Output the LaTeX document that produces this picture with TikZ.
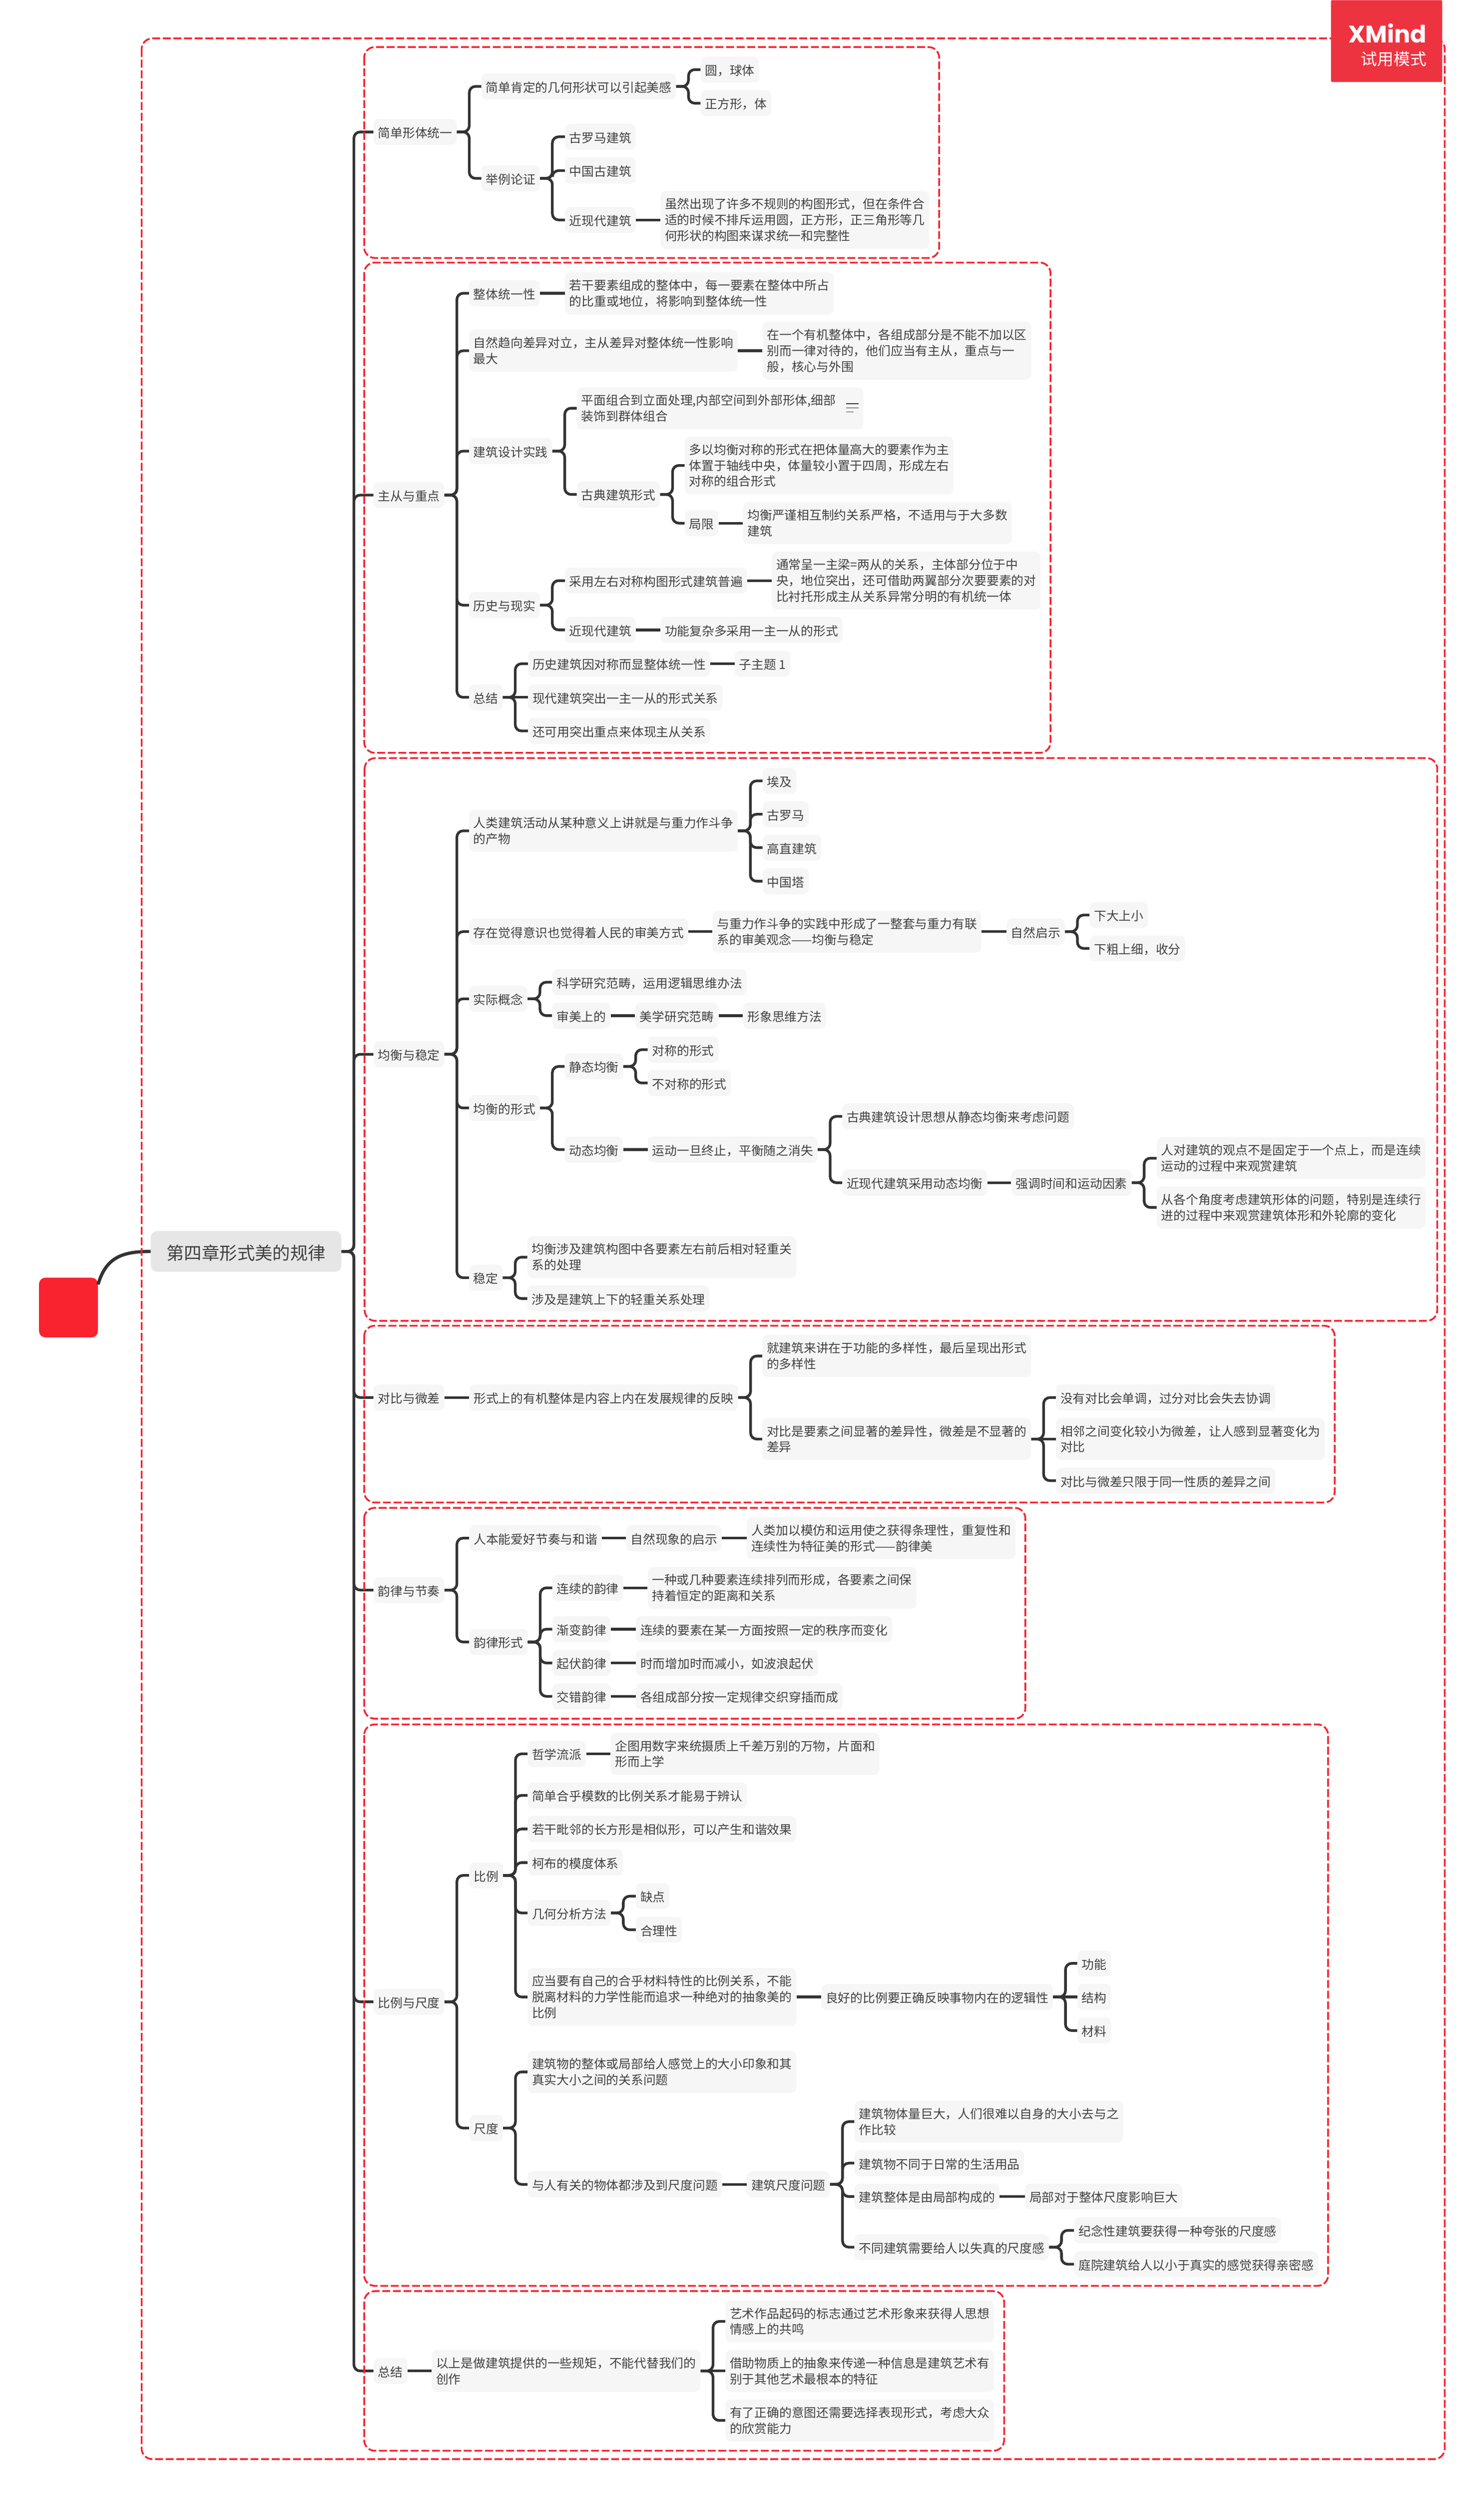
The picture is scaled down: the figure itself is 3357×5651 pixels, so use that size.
\documentclass[tikz,border=0pt]{standalone}
\usepackage{xcolor}
\usepackage{fontspec}
\setmainfont{Noto Sans CJK SC}
\newfontfamily\brandfont{Poppins}
\usepackage{tikz}
\usetikzlibrary{positioning}
\definecolor{boxgray}{HTML}{F6F6F6}
\definecolor{chaptergray}{HTML}{E6E6E6}
\definecolor{inkgray}{HTML}{333333}
\definecolor{textgray}{HTML}{404040}
\definecolor{framered}{HTML}{F9222F}
\definecolor{badgered}{HTML}{EE3340}
\tikzstyle{topic} = [anchor=west, fill=boxgray, rounded corners=6pt, inner xsep=5pt, inner ysep=0pt, align=left, minimum height=29.5pt, text=textgray, font=\fontsize{14pt}{18pt}\selectfont, execute at begin node={\rule{0pt}{14pt}}]
\tikzstyle{two} = [minimum height=47.5pt]
\tikzstyle{three} = [minimum height=65.5pt]
\tikzstyle{chapter} = [anchor=west, fill=chaptergray, rounded corners=7pt, inner xsep=17.75pt, inner ysep=0pt, minimum height=46pt, text=textgray, font=\fontsize{20pt}{24pt}\selectfont, execute at begin node={\rule{0pt}{20pt}}]
\tikzstyle{root} = [anchor=north west, fill=framered, rounded corners=7pt, minimum width=66.5pt, minimum height=67.5pt]
\tikzstyle{link} = [draw=inkgray, line width=3pt, rounded corners=7pt]
\tikzstyle{elbow} = [to path={-- ++(14pt,0) |- (\tikztotarget)}]
\tikzstyle{frame} = [draw=framered, line width=2pt, rounded corners=12pt, dash pattern=on 9pt off 3pt]
\tikzstyle{noteline} = [draw=inkgray, line width=0.9pt]
\begin{document}
\begin{tikzpicture}[x=0.5pt,y=-0.5pt]
      \useasboundingbox (0,0) rectangle (3357,5651);
      \draw (88,2890) node (r) [root] {};
      \draw (341,2831) node (m) [chapter] {第四章形式美的规律};
      \draw[link, line width=3.7pt] (r.38) .. controls (240,2845) and (275,2831) .. (m.west);
      %%%%%%%%%%%%%%%%%%%%%%%%%%%%%%%%%%%%%%%
      \draw (845,298.5) node (v1) [topic] {简单形体统一};
      \draw (1089,195.5) node (v2) [topic] {简单肯定的几何形状可以引起美感};
      \draw (1585,157.5) node (v3) [topic] {圆，球体};
      \draw (1585,233.5) node (v4) [topic] {正方形，体};
      \draw (1089,403.5) node (v5) [topic] {举例论证};
      \draw (1278,309.5) node (v6) [topic] {古罗马建筑};
      \draw (1278,386) node (v7) [topic] {中国古建筑};
      \draw (1278,497.5) node (v8) [topic] {近现代建筑};
      \draw (1494,497.5) node (v9) [topic,three] {虽然出现了许多不规则的构图形式，但在条件合\\适的时候不排斥运用圆，正方形，正三角形等几\\何形状的构图来谋求统一和完整性};
      %%%%%%%%%%%%%%%%%%%%%%%%%%%%%%%%%%%%%%%
      \draw (845,1120) node (v10) [topic] {主从与重点};
      \draw (1061,663.5) node (v11) [topic] {整体统一性};
      \draw (1278,663.5) node (v12) [topic,two] {若干要素组成的整体中，每一要素在整体中所占\\的比重或地位，将影响到整体统一性};
      \draw (1061,793.5) node (v13) [topic,two] {自然趋向差异对立，主从差异对整体统一性影响\\最大};
      \draw (1725,793.5) node (v14) [topic,three] {在一个有机整体中，各组成部分是不能不加以区\\别而一律对待的，他们应当有主从，重点与一\\般，核心与外围};
      \draw (1061,1020.5) node (v15) [topic] {建筑设计实践};
      \draw (1305,923.5) node (v16) [topic,two] {平面组合到立面处理,内部空间到外部形体,细部\hspace*{26pt}\\装饰到群体组合};
      \draw (1305,1118.5) node (v17) [topic] {古典建筑形式};
      \draw (1549,1053) node (v18) [topic,three] {多以均衡对称的形式在把体量高大的要素作为主\\体置于轴线中央，体量较小置于四周，形成左右\\对称的组合形式};
      \draw (1549,1183.5) node (v19) [topic] {局限};
      \draw (1681,1183.5) node (v20) [topic,two] {均衡严谨相互制约关系严格，不适用与于大多数\\建筑};
      \draw (1061,1369) node (v21) [topic] {历史与现实};
      \draw (1278,1313.5) node (v22) [topic] {采用左右对称构图形式建筑普遍};
      \draw (1746,1313.5) node (v23) [topic,three] {通常呈一主梁=两从的关系，主体部分位于中\\央，地位突出，还可借助两翼部分次要要素的对\\比衬托形成主从关系异常分明的有机统一体};
      \draw (1278,1425) node (v24) [topic] {近现代建筑};
      \draw (1494,1425) node (v25) [topic] {功能复杂多采用一主一从的形式};
      \draw (1061,1577.5) node (v26) [topic] {总结};
      \draw (1194.5,1501.5) node (v27) [topic] {历史建筑因对称而显整体统一性};
      \draw (1662,1501.5) node (v28) [topic] {子主题 1};
      \draw (1194.5,1577.5) node (v29) [topic] {现代建筑突出一主一从的形式关系};
      \draw (1194.5,1653.5) node (v30) [topic] {还可用突出重点来体现主从关系};
      %%%%%%%%%%%%%%%%%%%%%%%%%%%%%%%%%%%%%%%
      \draw (845,2385) node (v31) [topic] {均衡与稳定};
      \draw (1061,1879.5) node (v32) [topic,two] {人类建筑活动从某种意义上讲就是与重力作斗争\\的产物};
      \draw (1725.5,1766.5) node (v33) [topic] {埃及};
      \draw (1725.5,1842) node (v34) [topic] {古罗马};
      \draw (1725.5,1917.5) node (v35) [topic] {高直建筑};
      \draw (1725.5,1993.5) node (v36) [topic] {中国塔};
      \draw (1061,2107.5) node (v37) [topic] {存在觉得意识也觉得着人民的审美方式};
      \draw (1612,2107.5) node (v38) [topic,two] {与重力作斗争的实践中形成了一整套与重力有联\\系的审美观念——均衡与稳定};
      \draw (2277,2107.5) node (v39) [topic] {自然启示};
      \draw (2465,2070) node (v40) [topic] {下大上小};
      \draw (2465,2145.5) node (v41) [topic] {下粗上细，收分};
      \draw (1061,2259.5) node (v42) [topic] {实际概念};
      \draw (1249,2222) node (v43) [topic] {科学研究范畴，运用逻辑思维办法};
      \draw (1249,2297.5) node (v44) [topic] {审美上的};
      \draw (1437,2297.5) node (v45) [topic] {美学研究范畴};
      \draw (1681,2297.5) node (v46) [topic] {形象思维方法};
      \draw (1061,2506.5) node (v47) [topic] {均衡的形式};
      \draw (1277.5,2412.5) node (v48) [topic] {静态均衡};
      \draw (1465.5,2374.5) node (v49) [topic] {对称的形式};
      \draw (1465.5,2450) node (v50) [topic] {不对称的形式};
      \draw (1277.5,2600.5) node (v51) [topic] {动态均衡};
      \draw (1465.5,2600.5) node (v52) [topic] {运动一旦终止，平衡随之消失};
      \draw (1905.5,2525.5) node (v53) [topic] {古典建筑设计思想从静态均衡来考虑问题};
      \draw (1905.5,2675.5) node (v54) [topic] {近现代建筑采用动态均衡};
      \draw (2288,2675.5) node (v55) [topic] {强调时间和运动因素};
      \draw (2617,2620) node (v56) [topic,two] {人对建筑的观点不是固定于一个点上，而是连续\\运动的过程中来观赏建筑};
      \draw (2617,2731.5) node (v57) [topic,two] {从各个角度考虑建筑形体的问题，特别是连续行\\进的过程中来观赏建筑体形和外轮廓的变化};
      \draw (1061,2890.5) node (v58) [topic] {稳定};
      \draw (1193,2844) node (v59) [topic,two] {均衡涉及建筑构图中各要素左右前后相对轻重关\\系的处理};
      \draw (1193,2937.5) node (v60) [topic] {涉及是建筑上下的轻重关系处理};
      %%%%%%%%%%%%%%%%%%%%%%%%%%%%%%%%%%%%%%%
      \draw (845,3161.5) node (v61) [topic] {对比与微差};
      \draw (1061.5,3161.5) node (v62) [topic] {形式上的有机整体是内容上内在发展规律的反映};
      \draw (1724.5,3067.5) node (v63) [topic,two] {就建筑来讲在于功能的多样性，最后呈现出形式\\的多样性};
      \draw (1724.5,3255.5) node (v64) [topic,two] {对比是要素之间显著的差异性，微差是不显著的\\差异};
      \draw (2389,3161.5) node (v65) [topic] {没有对比会单调，过分对比会失去协调};
      \draw (2389,3255.5) node (v66) [topic,two] {相邻之间变化较小为微差，让人感到显著变化为\\对比};
      \draw (2389,3349.5) node (v67) [topic] {对比与微差只限于同一性质的差异之间};
      %%%%%%%%%%%%%%%%%%%%%%%%%%%%%%%%%%%%%%%
      \draw (845,3597) node (v68) [topic] {韵律与节奏};
      \draw (1061.5,3479.5) node (v69) [topic] {人本能爱好节奏与和谐};
      \draw (1416.5,3479.5) node (v70) [topic] {自然现象的启示};
      \draw (1689.5,3479.5) node (v71) [topic,two] {人类加以模仿和运用使之获得条理性，重复性和\\连续性为特征美的形式——韵律美};
      \draw (1061.5,3714.5) node (v72) [topic] {韵律形式};
      \draw (1249.5,3592) node (v73) [topic] {连续的韵律};
      \draw (1465,3592) node (v74) [topic,two] {一种或几种要素连续排列而形成，各要素之间保\\持着恒定的距离和关系};
      \draw (1249.5,3685.5) node (v75) [topic] {渐变韵律};
      \draw (1438.5,3685.5) node (v76) [topic] {连续的要素在某一方面按照一定的秩序而变化};
      \draw (1249.5,3762) node (v77) [topic] {起伏韵律};
      \draw (1438.5,3762) node (v78) [topic] {时而增加时而减小，如波浪起伏};
      \draw (1249.5,3837.5) node (v79) [topic] {交错韵律};
      \draw (1438.5,3837.5) node (v80) [topic] {各组成部分按一定规律交织穿插而成};
      %%%%%%%%%%%%%%%%%%%%%%%%%%%%%%%%%%%%%%%
      \draw (845,4528.5) node (v81) [topic] {比例与尺度};
      \draw (1061.5,4242.5) node (v82) [topic] {比例};
      \draw (1193.5,3967.5) node (v83) [topic] {哲学流派};
      \draw (1381.5,3967.5) node (v84) [topic,two] {企图用数字来统摄质上千差万别的万物，片面和\\形而上学};
      \draw (1193.5,4061.5) node (v85) [topic] {简单合乎模数的比例关系才能易于辨认};
      \draw (1193.5,4137.5) node (v86) [topic] {若干毗邻的长方形是相似形，可以产生和谐效果};
      \draw (1193.5,4213.5) node (v87) [topic] {柯布的模度体系};
      \draw (1193.5,4327.5) node (v88) [topic] {几何分析方法};
      \draw (1438.5,4289.5) node (v89) [topic] {缺点};
      \draw (1438.5,4365.5) node (v90) [topic] {合理性};
      \draw (1193.5,4517.5) node (v91) [topic,three] {应当要有自己的合乎材料特性的比例关系，不能\\脱离材料的力学性能而追求一种绝对的抽象美的\\比例};
      \draw (1858,4517.5) node (v92) [topic] {良好的比例要正确反映事物内在的逻辑性};
      \draw (2437.5,4441.5) node (v93) [topic] {功能};
      \draw (2437.5,4517.5) node (v94) [topic] {结构};
      \draw (2437.5,4593.5) node (v95) [topic] {材料};
      \draw (1061.5,4814) node (v96) [topic] {尺度};
      \draw (1193.5,4687) node (v97) [topic,two] {建筑物的整体或局部给人感觉上的大小印象和其\\真实大小之间的关系问题};
      \draw (1193.5,4941.5) node (v98) [topic] {与人有关的物体都涉及到尺度问题};
      \draw (1689.5,4941.5) node (v99) [topic] {建筑尺度问题};
      \draw (1933,4799.5) node (v100) [topic,two] {建筑物体量巨大，人们很难以自身的大小去与之\\作比较};
      \draw (1933,4893.5) node (v101) [topic] {建筑物不同于日常的生活用品};
      \draw (1933,4969) node (v102) [topic] {建筑整体是由局部构成的};
      \draw (2319,4969) node (v103) [topic] {局部对于整体尺度影响巨大};
      \draw (1933,5083.5) node (v104) [topic] {不同建筑需要给人以失真的尺度感};
      \draw (2430,5045.5) node (v105) [topic] {纪念性建筑要获得一种夸张的尺度感};
      \draw (2430,5122) node (v106) [topic] {庭院建筑给人以小于真实的感觉获得亲密感};
      %%%%%%%%%%%%%%%%%%%%%%%%%%%%%%%%%%%%%%%
      \draw (845,5363.5) node (v107) [topic] {总结};
      \draw (976.5,5363.5) node (v108) [topic,two] {以上是做建筑提供的一些规矩，不能代替我们的\\创作};
      \draw (1641,5251.5) node (v109) [topic,two] {艺术作品起码的标志通过艺术形象来获得人思想\\情感上的共鸣};
      \draw (1641,5363.5) node (v110) [topic,two] {借助物质上的抽象来传递一种信息是建筑艺术有\\别于其他艺术最根本的特征};
      \draw (1641,5475.5) node (v111) [topic,two] {有了正确的意图还需要选择表现形式，考虑大众\\的欣赏能力};
      %%%%%%%%%%%%%%%%%%%%%%%%%%%%%%%%%%%%%%%
      \draw[link] (m.east) to[elbow] (v1.west);
      \draw[link] (m.east) to[elbow] (v10.west);
      \draw[link] (m.east) to[elbow] (v31.west);
      \draw[link] (m.east) to[elbow] (v61.west);
      \draw[link] (m.east) to[elbow] (v68.west);
      \draw[link] (m.east) to[elbow] (v81.west);
      \draw[link] (m.east) to[elbow] (v107.west);
      \draw[link] (v1.east) to[elbow] (v2.west);
      \draw[link] (v1.east) to[elbow] (v5.west);
      \draw[link] (v2.east) to[elbow] (v3.west);
      \draw[link] (v2.east) to[elbow] (v4.west);
      \draw[link] (v5.east) to[elbow] (v6.west);
      \draw[link] (v5.east) to[elbow] (v7.west);
      \draw[link] (v5.east) to[elbow] (v8.west);
      \draw[link] (v8)--(v9);
      \draw[link] (v10.east) to[elbow] (v11.west);
      \draw[link] (v10.east) to[elbow] (v13.west);
      \draw[link] (v10.east) to[elbow] (v15.west);
      \draw[link] (v10.east) to[elbow] (v21.west);
      \draw[link] (v10.east) to[elbow] (v26.west);
      \draw[link] (v11)--(v12);
      \draw[link] (v13)--(v14);
      \draw[link] (v15.east) to[elbow] (v16.west);
      \draw[link] (v15.east) to[elbow] (v17.west);
      \draw[link] (v17.east) to[elbow] (v18.west);
      \draw[link] (v17.east) to[elbow] (v19.west);
      \draw[link] (v19)--(v20);
      \draw[link] (v21.east) to[elbow] (v22.west);
      \draw[link] (v21.east) to[elbow] (v24.west);
      \draw[link] (v22)--(v23);
      \draw[link] (v24)--(v25);
      \draw[link] (v26.east) to[elbow] (v27.west);
      \draw[link] (v26)--(v29);
      \draw[link] (v26.east) to[elbow] (v30.west);
      \draw[link] (v27)--(v28);
      \draw[link] (v31.east) to[elbow] (v32.west);
      \draw[link] (v31.east) to[elbow] (v37.west);
      \draw[link] (v31.east) to[elbow] (v42.west);
      \draw[link] (v31.east) to[elbow] (v47.west);
      \draw[link] (v31.east) to[elbow] (v58.west);
      \draw[link] (v32.east) to[elbow] (v33.west);
      \draw[link] (v32.east) to[elbow] (v34.west);
      \draw[link] (v32.east) to[elbow] (v35.west);
      \draw[link] (v32.east) to[elbow] (v36.west);
      \draw[link] (v37)--(v38);
      \draw[link] (v38)--(v39);
      \draw[link] (v39.east) to[elbow] (v40.west);
      \draw[link] (v39.east) to[elbow] (v41.west);
      \draw[link] (v42.east) to[elbow] (v43.west);
      \draw[link] (v42.east) to[elbow] (v44.west);
      \draw[link] (v44)--(v45);
      \draw[link] (v45)--(v46);
      \draw[link] (v47.east) to[elbow] (v48.west);
      \draw[link] (v47.east) to[elbow] (v51.west);
      \draw[link] (v48.east) to[elbow] (v49.west);
      \draw[link] (v48.east) to[elbow] (v50.west);
      \draw[link] (v51)--(v52);
      \draw[link] (v52.east) to[elbow] (v53.west);
      \draw[link] (v52.east) to[elbow] (v54.west);
      \draw[link] (v54)--(v55);
      \draw[link] (v55.east) to[elbow] (v56.west);
      \draw[link] (v55.east) to[elbow] (v57.west);
      \draw[link] (v58.east) to[elbow] (v59.west);
      \draw[link] (v58.east) to[elbow] (v60.west);
      \draw[link] (v61)--(v62);
      \draw[link] (v62.east) to[elbow] (v63.west);
      \draw[link] (v62.east) to[elbow] (v64.west);
      \draw[link] (v64.east) to[elbow] (v65.west);
      \draw[link] (v64)--(v66);
      \draw[link] (v64.east) to[elbow] (v67.west);
      \draw[link] (v68.east) to[elbow] (v69.west);
      \draw[link] (v68.east) to[elbow] (v72.west);
      \draw[link] (v69)--(v70);
      \draw[link] (v70)--(v71);
      \draw[link] (v72.east) to[elbow] (v73.west);
      \draw[link] (v72.east) to[elbow] (v75.west);
      \draw[link] (v72.east) to[elbow] (v77.west);
      \draw[link] (v72.east) to[elbow] (v79.west);
      \draw[link] (v73)--(v74);
      \draw[link] (v75)--(v76);
      \draw[link] (v77)--(v78);
      \draw[link] (v79)--(v80);
      \draw[link] (v81.east) to[elbow] (v82.west);
      \draw[link] (v81.east) to[elbow] (v96.west);
      \draw[link] (v82.east) to[elbow] (v83.west);
      \draw[link] (v82.east) to[elbow] (v85.west);
      \draw[link] (v82.east) to[elbow] (v86.west);
      \draw[link] (v82.east) to[elbow] (v87.west);
      \draw[link] (v82.east) to[elbow] (v88.west);
      \draw[link] (v82.east) to[elbow] (v91.west);
      \draw[link] (v83)--(v84);
      \draw[link] (v88.east) to[elbow] (v89.west);
      \draw[link] (v88.east) to[elbow] (v90.west);
      \draw[link] (v91)--(v92);
      \draw[link] (v92.east) to[elbow] (v93.west);
      \draw[link] (v92)--(v94);
      \draw[link] (v92.east) to[elbow] (v95.west);
      \draw[link] (v96.east) to[elbow] (v97.west);
      \draw[link] (v96.east) to[elbow] (v98.west);
      \draw[link] (v98)--(v99);
      \draw[link] (v99.east) to[elbow] (v100.west);
      \draw[link] (v99.east) to[elbow] (v101.west);
      \draw[link] (v99.east) to[elbow] (v102.west);
      \draw[link] (v99.east) to[elbow] (v104.west);
      \draw[link] (v102)--(v103);
      \draw[link] (v104.east) to[elbow] (v105.west);
      \draw[link] (v104.east) to[elbow] (v106.west);
      \draw[link] (v107)--(v108);
      \draw[link] (v108.east) to[elbow] (v109.west);
      \draw[link] (v108)--(v110);
      \draw[link] (v108.east) to[elbow] (v111.west);
      %%%%%%%%%%%%%%%%%%%%%%%%%%%%%%%%%%%%%%%
      \draw[noteline] (1915,913)--(1943,913);
      \draw[noteline] (1915,923)--(1943,923);
      \draw[noteline] (1915,932)--(1932,932);
      %%%%%%%%%%%%%%%%%%%%%%%%%%%%%%%%%%%%%%%
      \draw[frame] (320.5,87) rectangle (3269,5563);
      \draw[frame] (824,106.5) rectangle (2125,583.5);
      \draw[frame] (824,594) rectangle (2377,1703);
      \draw[frame] (825,1715) rectangle (3252,2988);
      \draw[frame] (824,2999) rectangle (3020,3399);
      \draw[frame] (824,3411) rectangle (2320,3888);
      \draw[frame] (824,3901) rectangle (3005,5171);
      \draw[frame] (824,5183) rectangle (2272,5544);
      %%%%%%%%%%%%%%%%%%%%%%%%%%%%%%%%%%%%%%%
      \draw (3011,0) node (b) [anchor=north west, fill=badgered, rounded corners=1pt, minimum width=126pt, minimum height=92.5pt] {};
      \draw (3228,97) node (b1) [anchor=base east, inner sep=0pt, text=white, font=\fontsize{27pt}{30pt}\brandfont\bfseries] {XMind};
      \draw (3228,147) node (b2) [anchor=base east, inner sep=0pt, text=white, font=\fontsize{18.5pt}{20pt}\selectfont] {试用模式};
\end{tikzpicture}
\end{document}
